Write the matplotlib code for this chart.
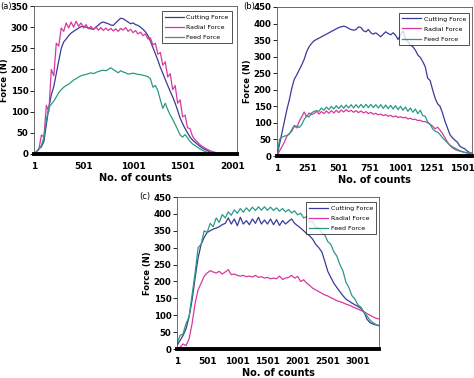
import matplotlib
matplotlib.use("Agg")
import matplotlib.pyplot as plt
import numpy as np

# ---- panel (a): counts 1..2051 every 25
x_a = np.arange(1, 2052, 25)
cut_a = [0, 6, 12, 17, 30, 70, 110, 140, 160, 190,
         220, 250, 265, 272, 280, 286, 290, 294, 298, 301,
         302, 300, 298, 296, 295, 300, 305, 310, 312, 310,
         308, 305, 304, 310, 316, 321, 320, 316, 312, 308,
         310, 306, 304, 300, 295, 289, 280, 267, 252, 237,
         222, 205, 191, 176, 162, 148, 135, 120, 103, 85,
         72, 60, 50, 40, 33, 28, 23, 18, 14, 11,
         8, 5, 3, 1, 0, 0, 0, 0, 0, 0,
         0, 0, 0]
rad_a = [0, 4, 12, 45, 40, 115, 100, 200, 185, 262,
         255, 298, 290, 310, 298, 312, 300, 314, 302, 310,
         298, 306, 296, 302, 294, 300, 293, 299, 292, 298,
         292, 297, 291, 296, 290, 297, 293, 299, 290, 295,
         287, 292, 284, 288, 280, 284, 272, 275, 258, 262,
         236, 240, 210, 218, 182, 190, 152, 162, 120, 128,
         88, 92, 62, 60, 42, 34, 28, 22, 18, 14,
         11, 8, 6, 4, 3, 2, 1, 1, 0, 0,
         0, 0, 0]
feed_a = [0, 5, 12, 20, 40, 80, 110, 118, 125, 135,
          145, 152, 158, 162, 165, 170, 175, 178, 182, 185,
          187, 188, 190, 192, 190, 193, 195, 197, 198, 197,
          200, 204, 200, 196, 192, 197, 194, 192, 189, 190,
          191, 190, 188, 188, 186, 185, 183, 178, 158, 162,
          150, 128, 108, 120, 105, 92, 82, 70, 58, 45,
          40, 46, 38, 30, 24, 20, 16, 12, 9, 6,
          4, 2, 1, 0, 0, 0, 0, 0, 0, 0,
          0, 0, 0]

# ---- panel (b): counts 1..1581 every 20
x_b = np.arange(1, 1582, 20)
cut_b = [0, 35, 70, 105, 140, 170, 205, 232, 245, 260,
         275, 292, 315, 330, 340, 348, 352, 356, 360, 364,
         368, 372, 376, 380, 384, 388, 390, 392, 390, 385,
         382, 380, 382, 390, 388, 378, 375, 382, 372, 368,
         372, 366, 360, 368, 375, 370, 366, 372, 365, 352,
         365, 378, 355, 345, 335, 330, 320, 305, 298, 285,
         270, 235, 228, 200, 175, 158, 150, 130, 105, 85,
         65, 55, 48, 42, 30, 25, 22, 15, 10, 8]
rad_b = [0, 15, 28, 42, 60, 68, 75, 90, 85, 105,
         118, 133, 118, 130, 125, 128, 135, 127, 134, 128,
         136, 129, 137, 130, 138, 131, 139, 133, 140, 134,
         138, 132, 137, 131, 136, 130, 134, 128, 132, 126,
         129, 124, 127, 122, 125, 120, 123, 118, 121, 116,
         119, 115, 117, 112, 114, 110, 111, 107, 108, 104,
         104, 100, 96, 90, 82, 87, 78, 68, 55, 42,
         32, 25, 20, 17, 15, 13, 11, 10, 9, 8]
feed_b = [0, 50, 57, 60, 62, 66, 80, 92, 90, 86,
          95, 110, 122, 118, 130, 135, 137, 135, 145, 138,
          148, 140, 150, 142, 152, 143, 153, 144, 154, 145,
          155, 145, 155, 146, 156, 146, 156, 146, 156, 146,
          155, 145, 155, 144, 154, 143, 153, 142, 152, 140,
          150, 138, 148, 135, 145, 132, 142, 128, 138, 122,
          120, 103, 95, 82, 75, 72, 65, 55, 48, 40,
          33, 28, 24, 20, 16, 13, 11, 9, 8, 7]

# ---- panel (c): counts 1..3351 every 50
x_c = np.arange(1, 3352, 50)
cut_c = [10, 25, 40, 60, 95, 145, 210, 270, 310, 330,
         345, 350, 355, 358, 362, 368, 372, 388, 370, 385,
         365, 390, 370, 380, 368, 385, 372, 390, 370, 382,
         370, 385, 368, 383, 366, 380, 370, 378, 385, 372,
         365, 358, 350, 342, 335, 325, 310, 300, 288, 260,
         230, 212, 195, 182, 170, 158, 148, 142, 136, 131,
         126, 120, 110, 88, 78, 74, 71, 70]
rad_c = [0, 5, 15, 10, 30, 75, 135, 175, 195, 215,
         225, 232, 228, 225, 230, 222, 228, 235, 220, 222,
         218, 216, 218, 214, 216, 213, 218, 212, 214, 210,
         212, 208, 210, 208, 216, 206, 210, 212, 218, 210,
         215, 200, 205, 195, 188, 180, 175, 170, 165, 160,
         157, 152, 148, 143, 140, 137, 133, 130, 126, 122,
         118, 114, 110, 105, 100, 95, 91, 89]
feed_c = [15, 40, 45, 75, 95, 160, 225, 300, 310, 350,
          345, 372, 362, 388, 375, 398, 388, 406, 396, 412,
          402, 416, 405, 418, 408, 420, 410, 421, 411, 421,
          411, 420, 410, 418, 408, 416, 406, 413, 403, 409,
          397, 402, 388, 392, 376, 378, 360, 360, 342, 338,
          318, 310, 288, 275, 250, 232, 198, 182, 158, 148,
          130, 124, 108, 98, 85, 78, 72, 68]

labels = ["Cutting Force", "Radial Force", "Feed Force"]
colors = ["#3a3a9a", "#d6399c", "#2a9a86"]

W, H = 474.0, 378.0


def draw(ax, x, series, xticks, xmax, ymax, legend_anchor):
    for s, lab, c in zip(series, labels, colors):
        ax.plot(x, s, color=c, lw=0.9, label=lab)
    ax.set_xlim(1, xmax)
    ax.set_ylim(0, ymax)
    ax.set_xticks(xticks)
    ax.set_yticks(np.arange(0, ymax + 1, 50))
    ax.tick_params(axis="x", length=0, labelsize=6.5, pad=6)
    ax.tick_params(axis="y", length=3, width=0.6, labelsize=6.2, pad=1)
    for t in ax.get_xticklabels() + ax.get_yticklabels():
        t.set_fontweight("bold")
    for sp in ["top", "right", "left"]:
        ax.spines[sp].set_linewidth(0.6)
        ax.spines[sp].set_color("#555555")
    ax.spines["bottom"].set_linewidth(2.8)
    ax.set_xlabel("No. of counts", fontsize=7, fontweight="bold", labelpad=1)
    ax.set_ylabel("Force (N)", fontsize=6, fontweight="bold", labelpad=1)
    leg = ax.legend(loc="upper right", bbox_to_anchor=legend_anchor,
                    fontsize=4.5, frameon=True, fancybox=False,
                    handlelength=3.0, borderpad=0.5, labelspacing=0.75,
                    handletextpad=0.4)
    leg.get_frame().set_edgecolor("black")
    leg.get_frame().set_linewidth(0.6)


fig = plt.figure(figsize=(4.74, 3.78), dpi=100)
ax_a = fig.add_axes([0.0717, 0.5926, 0.4283, 0.3915])
ax_b = fig.add_axes([0.5844, 0.5873, 0.4114, 0.3942])
ax_c = fig.add_axes([0.3734, 0.0767, 0.4262, 0.4021])

draw(ax_a, x_a, [cut_a, rad_a, feed_a], [1, 501, 1001, 1501, 2001], 2050, 350,
     (0.99, 0.985))
draw(ax_b, x_b, [cut_b, rad_b, feed_b], [1, 251, 501, 751, 1001, 1251, 1501],
     1580, 450, (1.0, 0.98))
draw(ax_c, x_c, [cut_c, rad_c, feed_c], [1, 501, 1001, 1501, 2001, 2501, 3001],
     3350, 450, (1.0, 0.985))

# panel tags, placed just left of the top tick label
for tag, px, py in [("(a)", 12, 6), ("(b)", 255, 7), ("(c)", 150, 197)]:
    fig.text(px / W, 1 - py / H, tag, fontsize=6, ha="right", va="center")

fig.savefig("out.png", dpi=100)
